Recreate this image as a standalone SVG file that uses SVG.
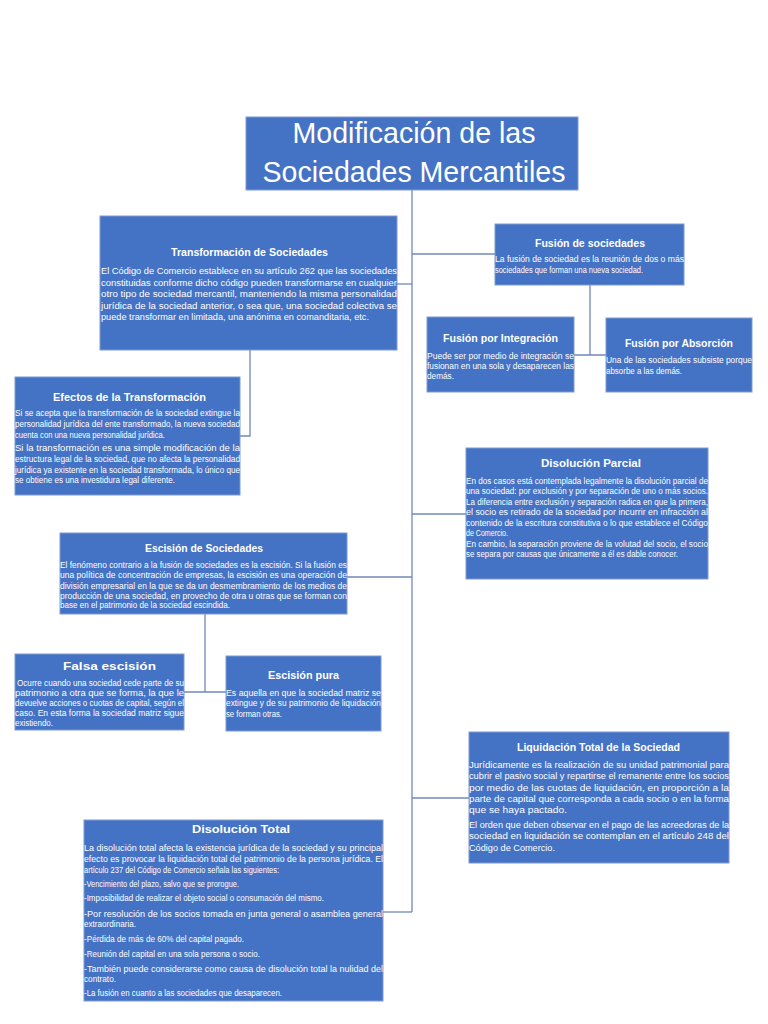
<svg xmlns="http://www.w3.org/2000/svg" width="768" height="1024" viewBox="0 0 768 1024">
<style>
.box{fill:#4472C4;stroke:#7F9AD2;stroke-width:1}
.t{font-family:"Liberation Sans",Arial,sans-serif;fill:#fff}
.main{font-size:29px;text-anchor:middle}
.h{font-size:11px;font-weight:bold;text-anchor:middle}
.b{font-size:8.3px}
.c{fill:none;stroke:#7088B8;stroke-width:1.3}
</style>
<rect width="768" height="1024" fill="#fff"/>
<g id="connectors">
<path class="c" d="M412 190V912"/>
<path class="c" d="M412 254H495"/>
<path class="c" d="M397 284H412"/>
<path class="c" d="M250 350V436H240"/>
<path class="c" d="M590 285V355M574 355H606"/>
<path class="c" d="M412 514H466"/>
<path class="c" d="M347 577H412"/>
<path class="c" d="M205 614V692M184 692H226"/>
<path class="c" d="M412 798H469"/>
<path class="c" d="M383 912H412"/>
</g>
<g id="title">
<rect class="box" x="246" y="117" width="332" height="73"/>
<text class="t main" x="414" y="143" textLength="243" lengthAdjust="spacingAndGlyphs">Modificación de las</text>
<text class="t main" x="414" y="182" textLength="303" lengthAdjust="spacingAndGlyphs">Sociedades Mercantiles</text>
</g>
<g id="transformacion">
<rect class="box" x="100" y="216" width="297" height="134"/>
<text class="t h" x="249.5" y="256" textLength="157" lengthAdjust="spacingAndGlyphs">Transformación de Sociedades</text>
<text class="t b" x="101" y="274" textLength="296" lengthAdjust="spacingAndGlyphs">El Código de Comercio establece en su artículo 262 que las sociedades</text>
<text class="t b" x="101" y="285.5" textLength="296" lengthAdjust="spacingAndGlyphs">constituidas conforme dicho código pueden transformarse en cualquier</text>
<text class="t b" x="101" y="297" textLength="296" lengthAdjust="spacingAndGlyphs">otro tipo de sociedad mercantil, manteniendo la misma personalidad</text>
<text class="t b" x="101" y="308.5" textLength="296" lengthAdjust="spacingAndGlyphs">jurídica de la sociedad anterior, o sea que, una sociedad colectiva se</text>
<text class="t b" x="101" y="320" textLength="268" lengthAdjust="spacingAndGlyphs">puede transformar en limitada, una anónima en comanditaria, etc.</text>
</g>
<g id="fusion">
<rect class="box" x="495" y="224" width="189" height="61"/>
<text class="t h" x="590" y="246.5" textLength="110" lengthAdjust="spacingAndGlyphs">Fusión de sociedades</text>
<text class="t b" x="495" y="262" textLength="189" lengthAdjust="spacingAndGlyphs">La fusión de sociedad es la reunión de dos o más</text>
<text class="t b" x="495" y="273" textLength="148" lengthAdjust="spacingAndGlyphs">sociedades que forman una nueva sociedad.</text>
</g>
<g id="integracion">
<rect class="box" x="427" y="317" width="147" height="75"/>
<text class="t h" x="500.5" y="341.5" textLength="115" lengthAdjust="spacingAndGlyphs">Fusión por Integración</text>
<text class="t b" x="427" y="359" textLength="147" lengthAdjust="spacingAndGlyphs">Puede ser por medio de integración se</text>
<text class="t b" x="427" y="369" textLength="147" lengthAdjust="spacingAndGlyphs">fusionan en una sola y desaparecen las</text>
<text class="t b" x="427" y="379" textLength="27" lengthAdjust="spacingAndGlyphs">demás.</text>
</g>
<g id="absorcion">
<rect class="box" x="606" y="318" width="146" height="74"/>
<text class="t h" x="679" y="346.5" textLength="108" lengthAdjust="spacingAndGlyphs">Fusión por Absorción</text>
<text class="t b" x="606" y="363" textLength="146" lengthAdjust="spacingAndGlyphs">Una de las sociedades subsiste porque</text>
<text class="t b" x="606" y="373.5" textLength="76" lengthAdjust="spacingAndGlyphs">absorbe a las demás.</text>
</g>
<g id="efectos">
<rect class="box" x="15" y="377" width="225" height="118"/>
<text class="t h" x="129.5" y="401" textLength="153" lengthAdjust="spacingAndGlyphs">Efectos de la Transformación</text>
<text class="t b" x="15" y="416" textLength="225" lengthAdjust="spacingAndGlyphs">Si se acepta que la transformación de la sociedad extingue la</text>
<text class="t b" x="15" y="427" textLength="225" lengthAdjust="spacingAndGlyphs">personalidad jurídica del ente transformado, la nueva sociedad</text>
<text class="t b" x="15" y="438" textLength="150" lengthAdjust="spacingAndGlyphs">cuenta con una nueva personalidad jurídica.</text>
<text class="t b" x="15" y="451" textLength="225" lengthAdjust="spacingAndGlyphs">Si la transformación es una simple modificación de la</text>
<text class="t b" x="15" y="462" textLength="225" lengthAdjust="spacingAndGlyphs">estructura legal de la sociedad, que no afecta la personalidad</text>
<text class="t b" x="15" y="472.5" textLength="225" lengthAdjust="spacingAndGlyphs">jurídica ya existente en la sociedad transformada, lo único que</text>
<text class="t b" x="15" y="483" textLength="160" lengthAdjust="spacingAndGlyphs">se obtiene es una investidura legal diferente.</text>
</g>
<g id="disolucion-parcial">
<rect class="box" x="466" y="448" width="242" height="131"/>
<text class="t h" x="591" y="466.5" textLength="100" lengthAdjust="spacingAndGlyphs">Disolución Parcial</text>
<text class="t b" x="466" y="483.5" textLength="242" lengthAdjust="spacingAndGlyphs">En dos casos está contemplada legalmente la disolución parcial de</text>
<text class="t b" x="466" y="494" textLength="242" lengthAdjust="spacingAndGlyphs">una sociedad: por exclusión y por separación de uno o más socios.</text>
<text class="t b" x="466" y="504.5" textLength="242" lengthAdjust="spacingAndGlyphs">La diferencia entre exclusión y separación radica en que la primera,</text>
<text class="t b" x="466" y="515" textLength="242" lengthAdjust="spacingAndGlyphs">el socio es retirado de la sociedad por incurrir en infracción al</text>
<text class="t b" x="466" y="525.5" textLength="242" lengthAdjust="spacingAndGlyphs">contenido de la escritura constitutiva o lo que establece el Código</text>
<text class="t b" x="466" y="535.5" textLength="42" lengthAdjust="spacingAndGlyphs">de Comercio.</text>
<text class="t b" x="466" y="547" textLength="242" lengthAdjust="spacingAndGlyphs">En cambio, la separación proviene de la volutad del socio, el socio</text>
<text class="t b" x="466" y="557" textLength="212" lengthAdjust="spacingAndGlyphs">se separa por causas que únicamente a él es dable conocer.</text>
</g>
<g id="escision">
<rect class="box" x="60" y="533" width="287" height="81"/>
<text class="t h" x="204" y="551.5" textLength="118" lengthAdjust="spacingAndGlyphs">Escisión de Sociedades</text>
<text class="t b" x="60" y="568" textLength="287" lengthAdjust="spacingAndGlyphs">El fenómeno contrario a la fusión de sociedades es la escisión. Si la fusión es</text>
<text class="t b" x="60" y="578" textLength="287" lengthAdjust="spacingAndGlyphs">una política de concentración de empresas, la escisión es una operación de</text>
<text class="t b" x="60" y="588.5" textLength="287" lengthAdjust="spacingAndGlyphs">división empresarial en la que se da un desmembramiento de los medios de</text>
<text class="t b" x="60" y="598.5" textLength="287" lengthAdjust="spacingAndGlyphs">producción de una sociedad, en provecho de otra u otras que se forman con</text>
<text class="t b" x="60" y="608" textLength="170" lengthAdjust="spacingAndGlyphs">base en el patrimonio de la sociedad escindida.</text>
</g>
<g id="falsa-escision">
<rect class="box" x="15" y="654" width="169" height="76"/>
<text class="t h" x="109.5" y="669.5" textLength="93" lengthAdjust="spacingAndGlyphs">Falsa escisión</text>
<text class="t b" x="17" y="686" textLength="167" lengthAdjust="spacingAndGlyphs">Ocurre cuando una sociedad cede parte de su</text>
<text class="t b" x="15" y="696" textLength="169" lengthAdjust="spacingAndGlyphs">patrimonio a otra que se forma, la que le</text>
<text class="t b" x="15" y="706" textLength="169" lengthAdjust="spacingAndGlyphs">devuelve acciones o cuotas de capital, según el</text>
<text class="t b" x="15" y="716" textLength="169" lengthAdjust="spacingAndGlyphs">caso. En esta forma la sociedad matriz sigue</text>
<text class="t b" x="15" y="725.5" textLength="38" lengthAdjust="spacingAndGlyphs">existiendo.</text>
</g>
<g id="escision-pura">
<rect class="box" x="226" y="656" width="155" height="75"/>
<text class="t h" x="303.5" y="679" textLength="71" lengthAdjust="spacingAndGlyphs">Escisión pura</text>
<text class="t b" x="226" y="695.5" textLength="155" lengthAdjust="spacingAndGlyphs">Es aquella en que la sociedad matriz se</text>
<text class="t b" x="226" y="706" textLength="155" lengthAdjust="spacingAndGlyphs">extingue y de su patrimonio de liquidación</text>
<text class="t b" x="226" y="716.5" textLength="56" lengthAdjust="spacingAndGlyphs">se forman otras.</text>
</g>
<g id="liquidacion">
<rect class="box" x="469" y="732" width="260" height="131"/>
<text class="t h" x="598.5" y="751" textLength="163" lengthAdjust="spacingAndGlyphs">Liquidación Total de la Sociedad</text>
<text class="t b" x="469" y="768" textLength="260" lengthAdjust="spacingAndGlyphs">Jurídicamente es la realización de su unidad patrimonial para</text>
<text class="t b" x="469" y="779" textLength="260" lengthAdjust="spacingAndGlyphs">cubrir el pasivo social y repartirse el remanente entre los socios</text>
<text class="t b" x="469" y="790.5" textLength="260" lengthAdjust="spacingAndGlyphs">por medio de las cuotas de liquidación, en proporción a la</text>
<text class="t b" x="469" y="801.5" textLength="260" lengthAdjust="spacingAndGlyphs">parte de capital que corresponda a cada socio o en la forma</text>
<text class="t b" x="469" y="812.5" textLength="98" lengthAdjust="spacingAndGlyphs">que se haya pactado.</text>
<text class="t b" x="469" y="828" textLength="260" lengthAdjust="spacingAndGlyphs">El orden que deben observar en el pago de las acreedoras de la</text>
<text class="t b" x="469" y="839" textLength="260" lengthAdjust="spacingAndGlyphs">sociedad en liquidación se contemplan en el artículo 248 del</text>
<text class="t b" x="469" y="850.5" textLength="86" lengthAdjust="spacingAndGlyphs">Código de Comercio.</text>
</g>
<g id="disolucion-total">
<rect class="box" x="84" y="820" width="299" height="181"/>
<text class="t h" x="241" y="833" textLength="98" lengthAdjust="spacingAndGlyphs">Disolución Total</text>
<text class="t b" x="84" y="851" textLength="299" lengthAdjust="spacingAndGlyphs">La disolución total afecta la existencia jurídica de la sociedad y su principal</text>
<text class="t b" x="84" y="862" textLength="299" lengthAdjust="spacingAndGlyphs">efecto es provocar la liquidación total del patrimonio de la persona jurídica. El</text>
<text class="t b" x="84" y="872.5" textLength="195" lengthAdjust="spacingAndGlyphs">artículo 237 del Código de Comercio señala las siguientes:</text>
<text class="t b" x="84" y="886.5" textLength="155" lengthAdjust="spacingAndGlyphs">-Vencimiento del plazo, salvo que se prorogue.</text>
<text class="t b" x="84" y="900.5" textLength="240" lengthAdjust="spacingAndGlyphs">-Imposibilidad de realizar el objeto social o consumación del mismo.</text>
<text class="t b" x="84" y="916.5" textLength="299" lengthAdjust="spacingAndGlyphs">-Por resolución de los socios tomada en junta general o asamblea general</text>
<text class="t b" x="84" y="927" textLength="52" lengthAdjust="spacingAndGlyphs">extraordinaria.</text>
<text class="t b" x="84" y="942" textLength="160" lengthAdjust="spacingAndGlyphs">-Pérdida de más de 60% del capital pagado.</text>
<text class="t b" x="84" y="957" textLength="176" lengthAdjust="spacingAndGlyphs">-Reunión del capital en una sola persona o socio.</text>
<text class="t b" x="84" y="971.5" textLength="299" lengthAdjust="spacingAndGlyphs">-También puede considerarse como causa de disolución total la nulidad del</text>
<text class="t b" x="84" y="981.5" textLength="32" lengthAdjust="spacingAndGlyphs">contrato.</text>
<text class="t b" x="84" y="996" textLength="198" lengthAdjust="spacingAndGlyphs">-La fusión en cuanto a las sociedades que desaparecen.</text>
</g>
</svg>
